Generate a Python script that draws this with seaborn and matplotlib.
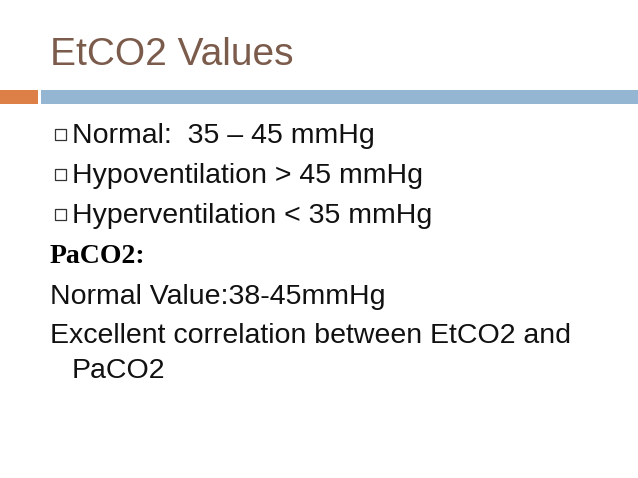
import matplotlib.pyplot as plt
import matplotlib.patches as patches
import seaborn as sns

sns.set_style("white")
plt.rcParams['font.family'] = ['Liberation Sans', 'DejaVu Sans']

title = "EtCO2 Values"
bullets = ["Normal:  35 – 45 mmHg", "Hypoventilation > 45 mmHg", "Hyperventilation < 35 mmHg"]
heading = "PaCO2:"
lines = ["Normal Value:38-45mmHg", "Excellent correlation between EtCO2 and", "PaCO2"]
line_x = [50, 50, 72]
line_y = [304, 343, 378]

fig = plt.figure(figsize=(6.38, 4.78), dpi=100)
ax = fig.add_axes([0, 0, 1, 1])
ax.set_xlim(0, 638)
ax.set_ylim(478, 0)
ax.axis("off")

# title and accent bar
ax.text(50, 65, title, fontsize=28, color="#7B5B4B", va="baseline")
ax.add_patch(patches.Rectangle((0, 90), 38, 14, color="#DD8047", lw=0))
ax.add_patch(patches.Rectangle((41, 90), 597, 14, color="#94B6D2", lw=0))

# bullet list
for i, b in enumerate(bullets):
    y = 143 + i * 40
    ax.add_patch(patches.Rectangle((55, y - 14), 11, 11, fill=False, ec="#333333", lw=0.9))
    ax.text(72, y, b, fontsize=20.5, color="#111111", va="baseline")

ax.text(50, 263, heading, fontsize=20, fontweight="heavy", family="Liberation Serif",
        color="black", va="baseline")

for x, y, t in zip(line_x, line_y, lines):
    ax.text(x, y, t, fontsize=20.5, color="#111111", va="baseline")

fig.savefig("out.png", dpi=100)
